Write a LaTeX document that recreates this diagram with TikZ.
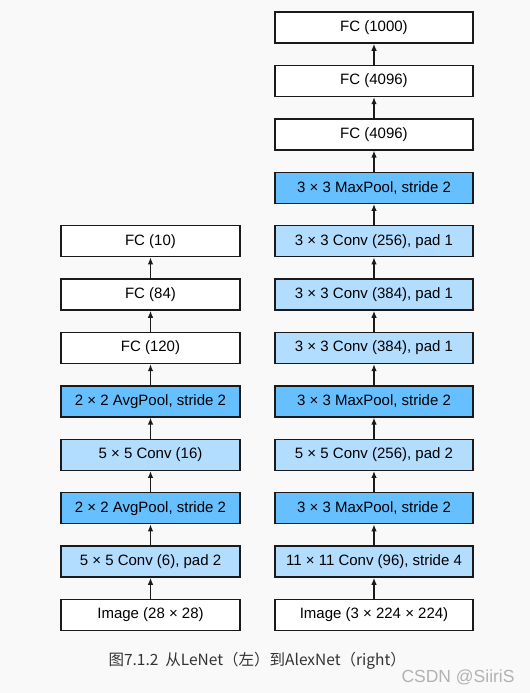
\documentclass[tikz,border=0pt]{standalone}
\usepackage{fontspec}
\setmainfont{Liberation Sans}
\newfontfamily\cjkfont{Noto Sans CJK SC}
\usepackage{tikz}
\usetikzlibrary{positioning,arrows.meta}

\definecolor{bgcol}{HTML}{F9F9F9}
\definecolor{poolcol}{HTML}{66BFFF}
\definecolor{convcol}{HTML}{B3DDFF}
\definecolor{edgecol}{HTML}{1A1A1A}

\begin{document}
\begin{tikzpicture}[
    layer/.style={draw=edgecol,line width=1.3bp,minimum height=31bp,inner sep=0pt,
        font=\fontsize{15bp}{17bp}\selectfont},
    plain/.style={layer,fill=white},
    conv/.style={layer,fill=convcol},
    pool/.style={layer,fill=poolcol},
    link/.style={edgecol,line width=1.3bp,-{Latex[length=7bp,width=5.5bp]}}
]

\fill[bgcol] (0,0) rectangle (530bp,-693bp);
\useasboundingbox (0,0) rectangle (530bp,-693bp);

% LeNet (left)
\foreach \i/\kind/\txt in {0/plain/{Image (28 × 28)}, 1/conv/{5 × 5 Conv (6), pad 2},
    2/pool/{2 × 2 AvgPool, stride 2}, 3/conv/{5 × 5 Conv (16)},
    4/pool/{2 × 2 AvgPool, stride 2}, 5/plain/{FC (120)}, 6/plain/{FC (84)},
    7/plain/{FC (10)}} {
    \node[\kind,minimum width=179bp] (l\i) at (150.5bp,{-615bp+53.4bp*\i}) {\txt};
}

% AlexNet (right)
\foreach \i/\kind/\txt in {0/plain/{Image (3 × 224 × 224)}, 1/conv/{11 × 11 Conv (96), stride 4},
    2/pool/{3 × 3 MaxPool, stride 2}, 3/conv/{5 × 5 Conv (256), pad 2},
    4/pool/{3 × 3 MaxPool, stride 2}, 5/conv/{3 × 3 Conv (384), pad 1},
    6/conv/{3 × 3 Conv (384), pad 1}, 7/conv/{3 × 3 Conv (256), pad 1},
    8/pool/{3 × 3 MaxPool, stride 2}, 9/plain/{FC (4096)}, 10/plain/{FC (4096)},
    11/plain/{FC (1000)}} {
    \node[\kind,minimum width=198bp] (r\i) at (374bp,{-615bp+53.4bp*\i}) {\txt};
}

\foreach \i [evaluate=\i as \j using int(\i+1)] in {0,...,6} {
    \draw[link] (l\i) -- (l\j);
}
\foreach \i [evaluate=\i as \j using int(\i+1)] in {0,...,10} {
    \draw[link] (r\i) -- (r\j);
}

\node[anchor=west,text=black!80,font=\cjkfont\fontsize{15.5bp}{18bp}\selectfont] (caption)
    at (105bp,-661bp) {图7.1.2 \ 从LeNet（左）到AlexNet（right）};
\node[anchor=west,text=black!30,font=\fontsize{17.5bp}{20bp}\selectfont] (mark)
    at (398bp,-677bp) {CSDN @SiiriS};

\end{tikzpicture}
\end{document}
